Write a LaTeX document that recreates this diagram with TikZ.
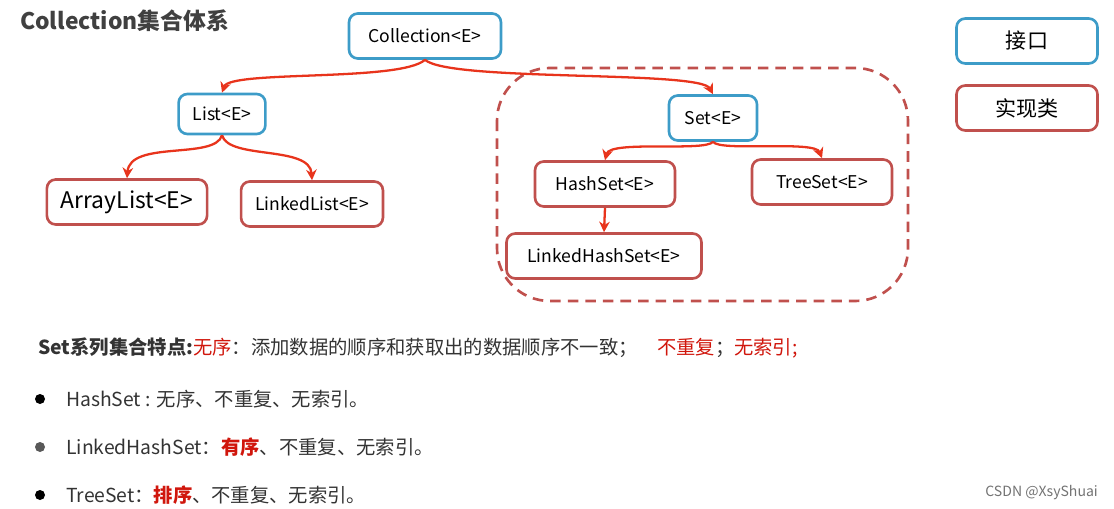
\documentclass[tikz,border=0pt]{standalone}
\usepackage{fontspec}
\setmainfont{Noto Sans CJK SC}
\usetikzlibrary{arrows.meta}
\definecolor{ifc}{HTML}{3D9CC8}
\definecolor{imc}{HTML}{C0504D}
\definecolor{arr}{HTML}{E8341C}
\definecolor{rtx}{HTML}{D0160C}
\begin{document}
\begin{tikzpicture}[x=0.02cm,y=-0.02cm,
  box/.style={draw,rounded corners=5pt,line width=1.5pt,minimum height=0.9cm,font=\fontsize{10}{12}\selectfont,inner xsep=8pt},
  ifbox/.style={box,draw=ifc},
  imbox/.style={box,draw=imc},
  link/.style={draw=arr,line width=1.3pt,-{Stealth[length=6pt,width=6pt]}},
  txt/.style={anchor=west,font=\fontsize{11}{13}\selectfont,text=black!80}]
\useasboundingbox (0,0) rectangle (1114,509);
\node[anchor=north west,font=\bfseries\fontsize{13}{15}\selectfont,text=black!75] (title) at (14,4) {Collection集合体系};
\draw[imc,line width=1.5pt,dashed,dash pattern=on 6pt off 4pt,rounded corners=30pt] (497,68) rectangle (908,301);
\node[ifbox,minimum width=3.04cm] (col) at (425,36) {Collection<E>};
\node[ifbox,minimum width=1.6cm,minimum height=0.8cm] (list) at (222,114) {List<E>};
\node[ifbox,minimum width=1.76cm] (set) at (713,118) {Set<E>};
\node[imbox,minimum width=3.06cm,font=\fontsize{13}{15}\selectfont] (al) at (127,202) {ArrayList<E>};
\node[imbox,minimum width=2.8cm] (ll) at (312,204) {LinkedList<E>};
\node[imbox,minimum width=2.8cm] (hs) at (605,184) {HashSet<E>};
\node[imbox,minimum width=2.8cm] (ts) at (822,182) {TreeSet<E>};
\node[imbox,minimum width=3.9cm] (lhs) at (604,256) {LinkedHashSet<E>};
\node[ifbox,minimum width=2.82cm,font=\fontsize{12}{14}\selectfont] (k1) at (1027,41) {接口};
\node[imbox,minimum width=2.82cm,font=\fontsize{12}{14}\selectfont] (k2) at (1027,108) {实现类};
\draw[link] (col.south) .. controls (400,82) and (230,70) .. (list.north);
\draw[link] (col.south) .. controls (450,82) and (700,70) .. (set.north);
\draw[link] (list.south) .. controls (215,160) and (130,140) .. (al.north);
\draw[link] (list.south) .. controls (229,160) and (310,145) .. (ll.north);
\draw[link] (set.south) .. controls (705,152) and (610,140) .. (hs.north);
\draw[link] (set.south) .. controls (720,152) and (815,140) .. (ts.north);
\draw[link] (hs.south) -- (lhs.north);
\node[txt] (l0) at (32,348) {\textbf{Set系列集合特点:}\textcolor{rtx}{无序}：添加数据的顺序和获取出的数据顺序不一致；\quad\textcolor{rtx}{不重复}；\textcolor{rtx}{无索引;}};
\fill[black] (40,399) circle (5);
\node[txt] (l1) at (60,399) {HashSet : 无序、不重复、无索引。};
\fill[black!65] (40,447) circle (5);
\node[txt] (l2) at (60,447) {LinkedHashSet：\textcolor{rtx}{\textbf{有序}}、不重复、无索引。};
\fill[black] (40,495) circle (5);
\node[txt] (l3) at (60,495) {TreeSet：\textcolor{rtx}{\textbf{排序}}、不重复、无索引。};
\node[anchor=east,font=\fontsize{8}{10}\selectfont,text=black!55] (wm) at (1104,493) {CSDN @XsyShuai};
\end{tikzpicture}
\end{document}
